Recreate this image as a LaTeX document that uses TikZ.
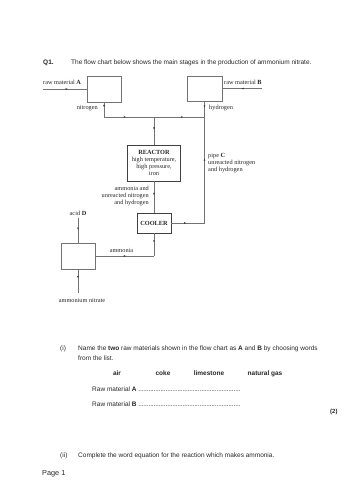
\documentclass[tikz,border=0pt]{standalone}
\usepackage{fontspec}
\setmainfont{Liberation Serif}
\setsansfont{Liberation Sans}
\usetikzlibrary{arrows.meta,decorations.markings}
\newcommand{\densedots}[1]{\makebox[#1]{\leaders\hbox to 1.7pt{\hss.\hss}\hfill}}
\begin{document}
\begin{tikzpicture}[x=1pt,y=-1pt,
  line/.style={draw=black!55,line width=0.6pt},
  midarr/.style={postaction={decorate},decoration={markings,mark=at position #1 with {\arrow[black!80]{Latex[length=2.2pt,width=1.8pt]}}}},
  plainbox/.style={draw=black!55,line width=0.7pt,minimum width=34pt,inner sep=0pt},
  stagebox/.style={draw=black!75,line width=0.95pt,fill=white,inner sep=0pt,align=center},
  dtext/.style={font=\fontsize{6.3}{7}\selectfont,inner sep=0pt,text=black!85},
  qtext/.style={font=\sffamily\fontsize{6.5}{8.5}\selectfont,inner sep=0pt,text=black!85,anchor=west},
  qbold/.style={qtext,font=\sffamily\bfseries\fontsize{6.5}{8.5}\selectfont}]
\useasboundingbox (0,0) rectangle (353,500);
% header
\node[qbold] (q1) at (43,63) {Q1.};
\node[qtext] (intro) at (71,63) {The flow chart below shows the main stages in the production of ammonium nitrate.};
% boxes
\node[plainbox,minimum height=26pt] (boxA) at (104,89) {};
\node[plainbox,minimum width=35pt,minimum height=25pt] (boxB) at (204.5,88.5) {};
\node[stagebox,minimum width=53pt,minimum height=36pt] (reactor) at (154,163) {};
\node[dtext,align=center] (reactortxt) at (154,162.5) {\textbf{REACTOR}\\high temperature,\\high pressure,\\iron};
\node[stagebox,minimum width=34pt,minimum height=20pt] (cooler) at (154,223) {};
\node[dtext,font=\bfseries\fontsize{6.3}{7}\selectfont] (coolertxt) at (154,223) {COOLER};
\node[plainbox,minimum height=26pt] (boxD) at (78,256) {};
% coordinates
\coordinate (inA) at (43,89);
\coordinate (outB) at (262,88.5);
\coordinate (jA) at (104,117);
\coordinate (jR) at (154,117);
\coordinate (jB) at (204.5,117);
\coordinate (cR) at (204.5,223);
\coordinate (cD) at (154,256);
\coordinate (acidTop) at (78,218);
\coordinate (anBot) at (78,293);
% labels
\node[dtext,anchor=west] (rawA) at (43,82) {raw material \textbf{A}};
\node[dtext,anchor=west] (rawB) at (224,82) {raw material \textbf{B}};
\node[dtext,anchor=east] (nitro) at (98,108) {nitrogen};
\node[dtext,anchor=west] (hydro) at (209,108) {hydrogen};
\node[dtext,align=right,anchor=east] (mix) at (149,196) {ammonia and\\unreacted nitrogen\\and hydrogen};
\node[dtext,align=left,anchor=west] (pipec) at (208,163) {pipe \textbf{C}\\unreacted nitrogen\\and hydrogen};
\node[dtext] (ammonia) at (121.5,250) {ammonia};
\node[dtext] (acidD) at (78,213) {acid \textbf{D}};
\node[dtext] (ammnit) at (82,300) {ammonium nitrate};
% connectors
\draw[line,midarr=0.57] (inA) -- (boxA.west);
\draw[line,midarr=0.52] (outB) -- (boxB.east);
\draw[line,midarr=0.33] (boxA.south) -- (jA);
\draw[line,midarr=0.44] (jA) -- (jR);
\draw[line,midarr=0.48] (jB) -- (jR);
\draw[line,midarr=0.4] (boxB.south) -- (jB);
\draw[line,midarr=0.46] (jR) -- (reactor.north);
\draw[line,midarr=0.44] (reactor.south) -- (cooler.north);
\draw[line,midarr=0.45] (cooler.east) -- (cR);
\draw[line,midarr=0.61] (cR) -- (jB);
\draw[line,midarr=0.4] (cooler.south) -- (cD);
\draw[line,midarr=0.53] (cD) -- (boxD.east);
\draw[line,midarr=0.48] (acidTop) -- (boxD.north);
\draw[line,midarr=0.38] (boxD.south) -- (anBot);
% question text
\node[qtext] (qi) at (60,349) {(i)};
\node[qtext] (qitext1) at (78,349) {Name the \textbf{two} raw materials shown in the flow chart as \textbf{A} and \textbf{B} by choosing words};
\node[qtext] (qitext2) at (78,358) {from the list.};
\node[qbold,anchor=base] (w1) at (117,375.3) {air};
\node[qbold,anchor=base] (w2) at (163,375.3) {coke};
\node[qbold,anchor=base] (w3) at (209,375.3) {limestone};
\node[qbold,anchor=base] (w4) at (265,375.3) {natural gas};
\node[qtext] (ansA) at (92,389) {Raw material \textbf{A} \densedots{102pt}};
\node[qtext] (ansB) at (92,404) {Raw material \textbf{B} \densedots{102pt}};
\node[qtext,font=\sffamily\bfseries\fontsize{6}{7}\selectfont] (mark2) at (330,412) {(2)};
\node[qtext] (qii) at (60,456) {(ii)};
\node[qtext] (qiitext) at (78,456) {Complete the word equation for the reaction which makes ammonia.};
\node[qtext,font=\sffamily\fontsize{7.3}{8.5}\selectfont] (page) at (42,474) {Page 1};
\end{tikzpicture}
\end{document}
